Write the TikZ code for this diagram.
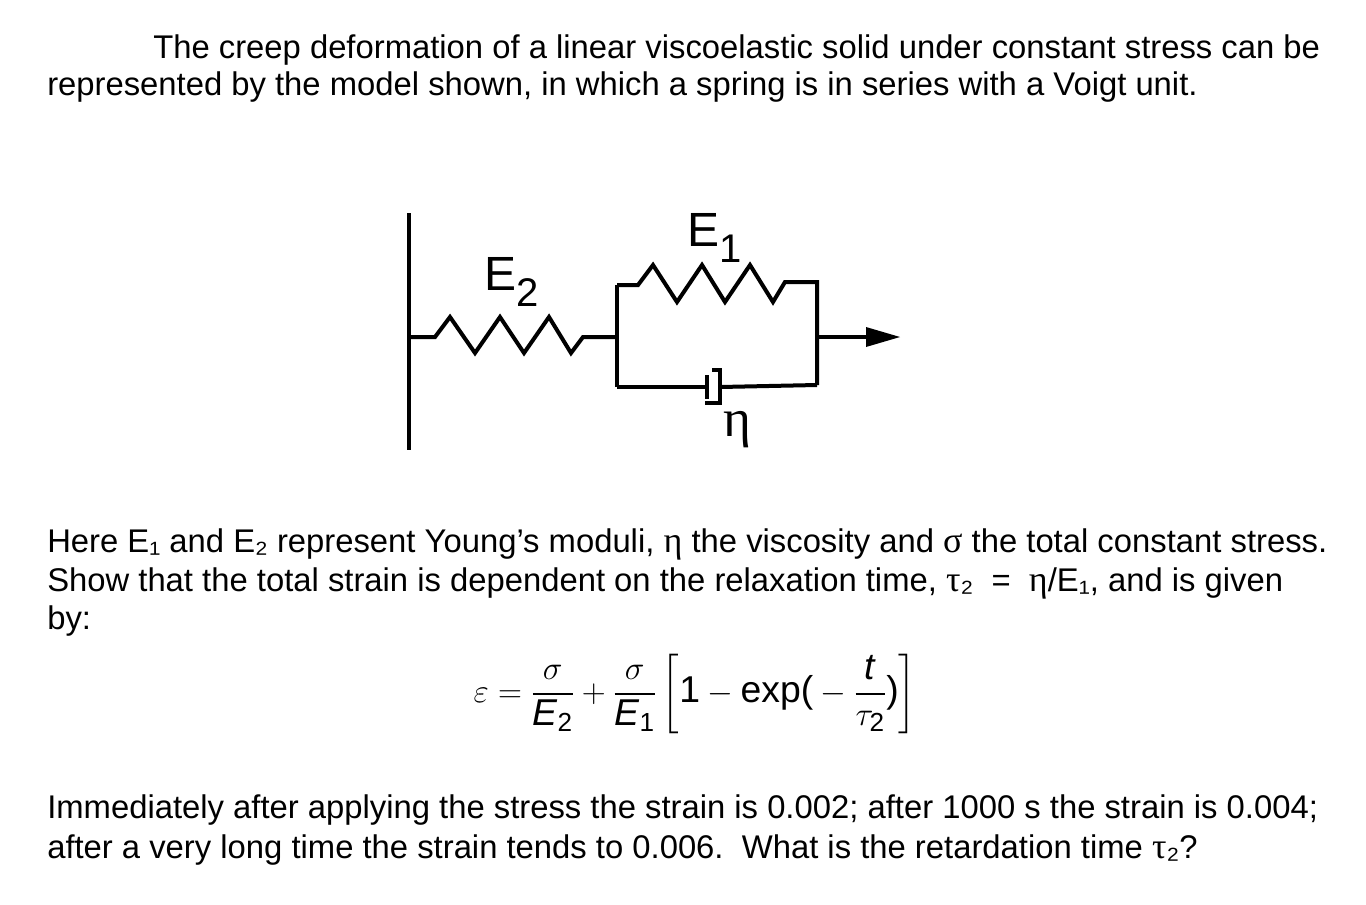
\documentclass[tikz,border=0pt]{standalone}
\usepackage{fontspec}
\setmainfont{Liberation Sans}
\newfontfamily\grk{Liberation Serif}
\usepackage{amsmath}
\begin{document}
\begin{tikzpicture}[x=0.75pt,y=-0.75pt,
  txt/.style={anchor=base west,inner sep=0,font=\fontsize{24.6pt}{29pt}\selectfont},
  lbl/.style={inner sep=0,font=\fontsize{36pt}{40pt}\selectfont},
  wire/.style={line width=3pt,line join=miter}]
\useasboundingbox (0,0) rectangle (1366,904);
\node[txt] (l1) at (153,58) {The creep deformation of a linear viscoelastic solid under constant stress can be};
\node[txt] (l2) at (47,95) {represented by the model shown, in which a spring is in series with a Voigt unit.};
% model
\coordinate (w1) at (409,213); \coordinate (w2) at (409,450);
\draw[wire] (w1) -- (w2);
\draw[wire] (409,337) -- (435,337) -- (450,317) -- (475,353) -- (500,317) -- (524,353) -- (549,317) -- (571,353) -- (583,337) -- (617,337);
\draw[wire] (617,285) -- (617,387);
\draw[wire] (617,285) -- (638,285) -- (653,265) -- (677,302) -- (702,265) -- (725,302) -- (750,265) -- (773,302) -- (785,282) -- (817,282) -- (817,385);
\draw[wire] (617,387) -- (707,387);
\draw[wire] (707,375) -- (707,399);
\draw[wire] (712,370) -- (720,370) -- (720,403) -- (705,403);
\draw[wire] (720,387) -- (817,385);
\coordinate (a0) at (817,337); \coordinate (a1) at (900,337);
\draw[line width=3pt] (a0) -- (872,337);
\fill (a1) -- (866,327) -- (866,347) -- cycle;
\node[lbl] (E2) at (512,282) {E\textsubscript{\fontsize{30pt}{32pt}\selectfont 2}};
\node[lbl] (E1) at (715,238) {E\textsubscript{\fontsize{30pt}{32pt}\selectfont 1}};
\node[lbl,font=\grk\fontsize{40pt}{42pt}\selectfont] (eta) at (737,430) {η};
% para 2
\node[txt] (p1) at (47,552) {Here E₁ and E₂ represent Young’s moduli, {\grk\fontsize{27pt}{29pt}\selectfont η} the viscosity and {\grk\fontsize{27pt}{29pt}\selectfont σ} the total constant stress.};
\node[txt] (p2) at (47,591) {Show that the total strain is dependent on the relaxation time, {\grk\fontsize{27pt}{29pt}\selectfont τ}₂ \ = \ {\grk\fontsize{27pt}{29pt}\selectfont η}/E₁, and is given};
\node[txt] (p3) at (47,629) {by:};
% equation
\node[inner sep=0,font=\fontsize{28pt}{33pt}\selectfont] (eq) at (695,694) {$\varepsilon = \dfrac{\sigma}{\textit{E}_{\text{2}}} + \dfrac{\sigma}{\textit{E}_{\text{1}}}\left[\text{1}-\text{exp(}-\dfrac{\textit{t}}{\tau_{\text{2}}}\text{)}\right]$};
% para 3
\node[txt] (q1) at (47,818) {Immediately after applying the stress the strain is 0.002; after 1000 s the strain is 0.004;};
\node[txt] (q2) at (47,858) {after a very long time the strain tends to 0.006.\ \ What is the retardation time {\grk\fontsize{27pt}{29pt}\selectfont τ}₂?};
\end{tikzpicture}
\end{document}
